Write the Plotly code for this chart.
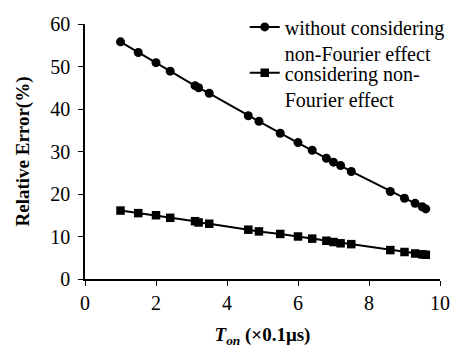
import plotly.graph_objects as go

ton = [1.0, 1.5, 2.0, 2.4, 3.1, 3.2, 3.5, 4.6, 4.9, 5.5, 6.0, 6.4, 6.8, 7.0, 7.2, 7.5, 8.6, 9.0, 9.3, 9.5, 9.6]
err_without = [55.8, 53.3, 50.9, 48.9, 45.5, 45.0, 43.7, 38.4, 37.1, 34.3, 32.1, 30.3, 28.4, 27.5, 26.7, 25.3, 20.6, 19.0, 17.8, 17.0, 16.5]
err_with = [16.1, 15.5, 15.0, 14.4, 13.6, 13.3, 13.0, 11.6, 11.2, 10.6, 10.0, 9.5, 9.0, 8.7, 8.4, 8.2, 6.8, 6.35, 6.0, 5.8, 5.7]

font_family = "Liberation Serif, Times New Roman, serif"

fig = go.Figure()
fig.add_trace(go.Scatter(
    x=ton, y=err_without, mode="lines+markers",
    name="without considering<br>non-Fourier effect",
    line=dict(color="black", width=2),
    marker=dict(symbol="circle", size=9, color="black"),
    legend="legend",
))
fig.add_trace(go.Scatter(
    x=ton, y=err_with, mode="lines+markers",
    name="considering non-<br>Fourier effect",
    line=dict(color="black", width=2),
    marker=dict(symbol="square", size=8.5, color="black"),
    legend="legend2",
))

legend_common = dict(
    xanchor="left", yanchor="top",
    bgcolor="rgba(0,0,0,0)", font=dict(family=font_family, size=20, color="black"),
    itemwidth=30, valign="top",
)

fig.update_layout(
    width=458, height=340,
    margin=dict(l=77, r=26, t=16, b=69, autoexpand=False),
    paper_bgcolor="white", plot_bgcolor="white",
    font=dict(family=font_family, size=19, color="black"),
    showlegend=True,
    legend=dict(x=0.45, y=1.065, **legend_common),
    legend2=dict(x=0.45, y=0.885, **legend_common),
    xaxis=dict(
        range=[0, 10], tickvals=[0, 2, 4, 6, 8, 10],
        showline=True, linecolor="black", linewidth=1.5,
        ticks="outside", ticklen=5, tickcolor="black",
        showgrid=False, zeroline=False,
        tickfont=dict(family=font_family, size=20),
        title=dict(text="<b><i>T</i><sub><i>on</i></sub> (×0.1μs)</b>",
                   font=dict(family=font_family, size=19), standoff=17),
    ),
    yaxis=dict(
        range=[0, 60], tickvals=[0, 10, 20, 30, 40, 50, 60],
        showline=True, linecolor="black", linewidth=1.5,
        ticks="outside", ticklen=5, tickcolor="black",
        ticklabelstandoff=4,
        showgrid=False, zeroline=False,
        tickfont=dict(family=font_family, size=20),
        title=dict(text="<b>Relative Error(%)</b>",
                   font=dict(family=font_family, size=19), standoff=16),
    ),
)

fig.write_html("out.html")
